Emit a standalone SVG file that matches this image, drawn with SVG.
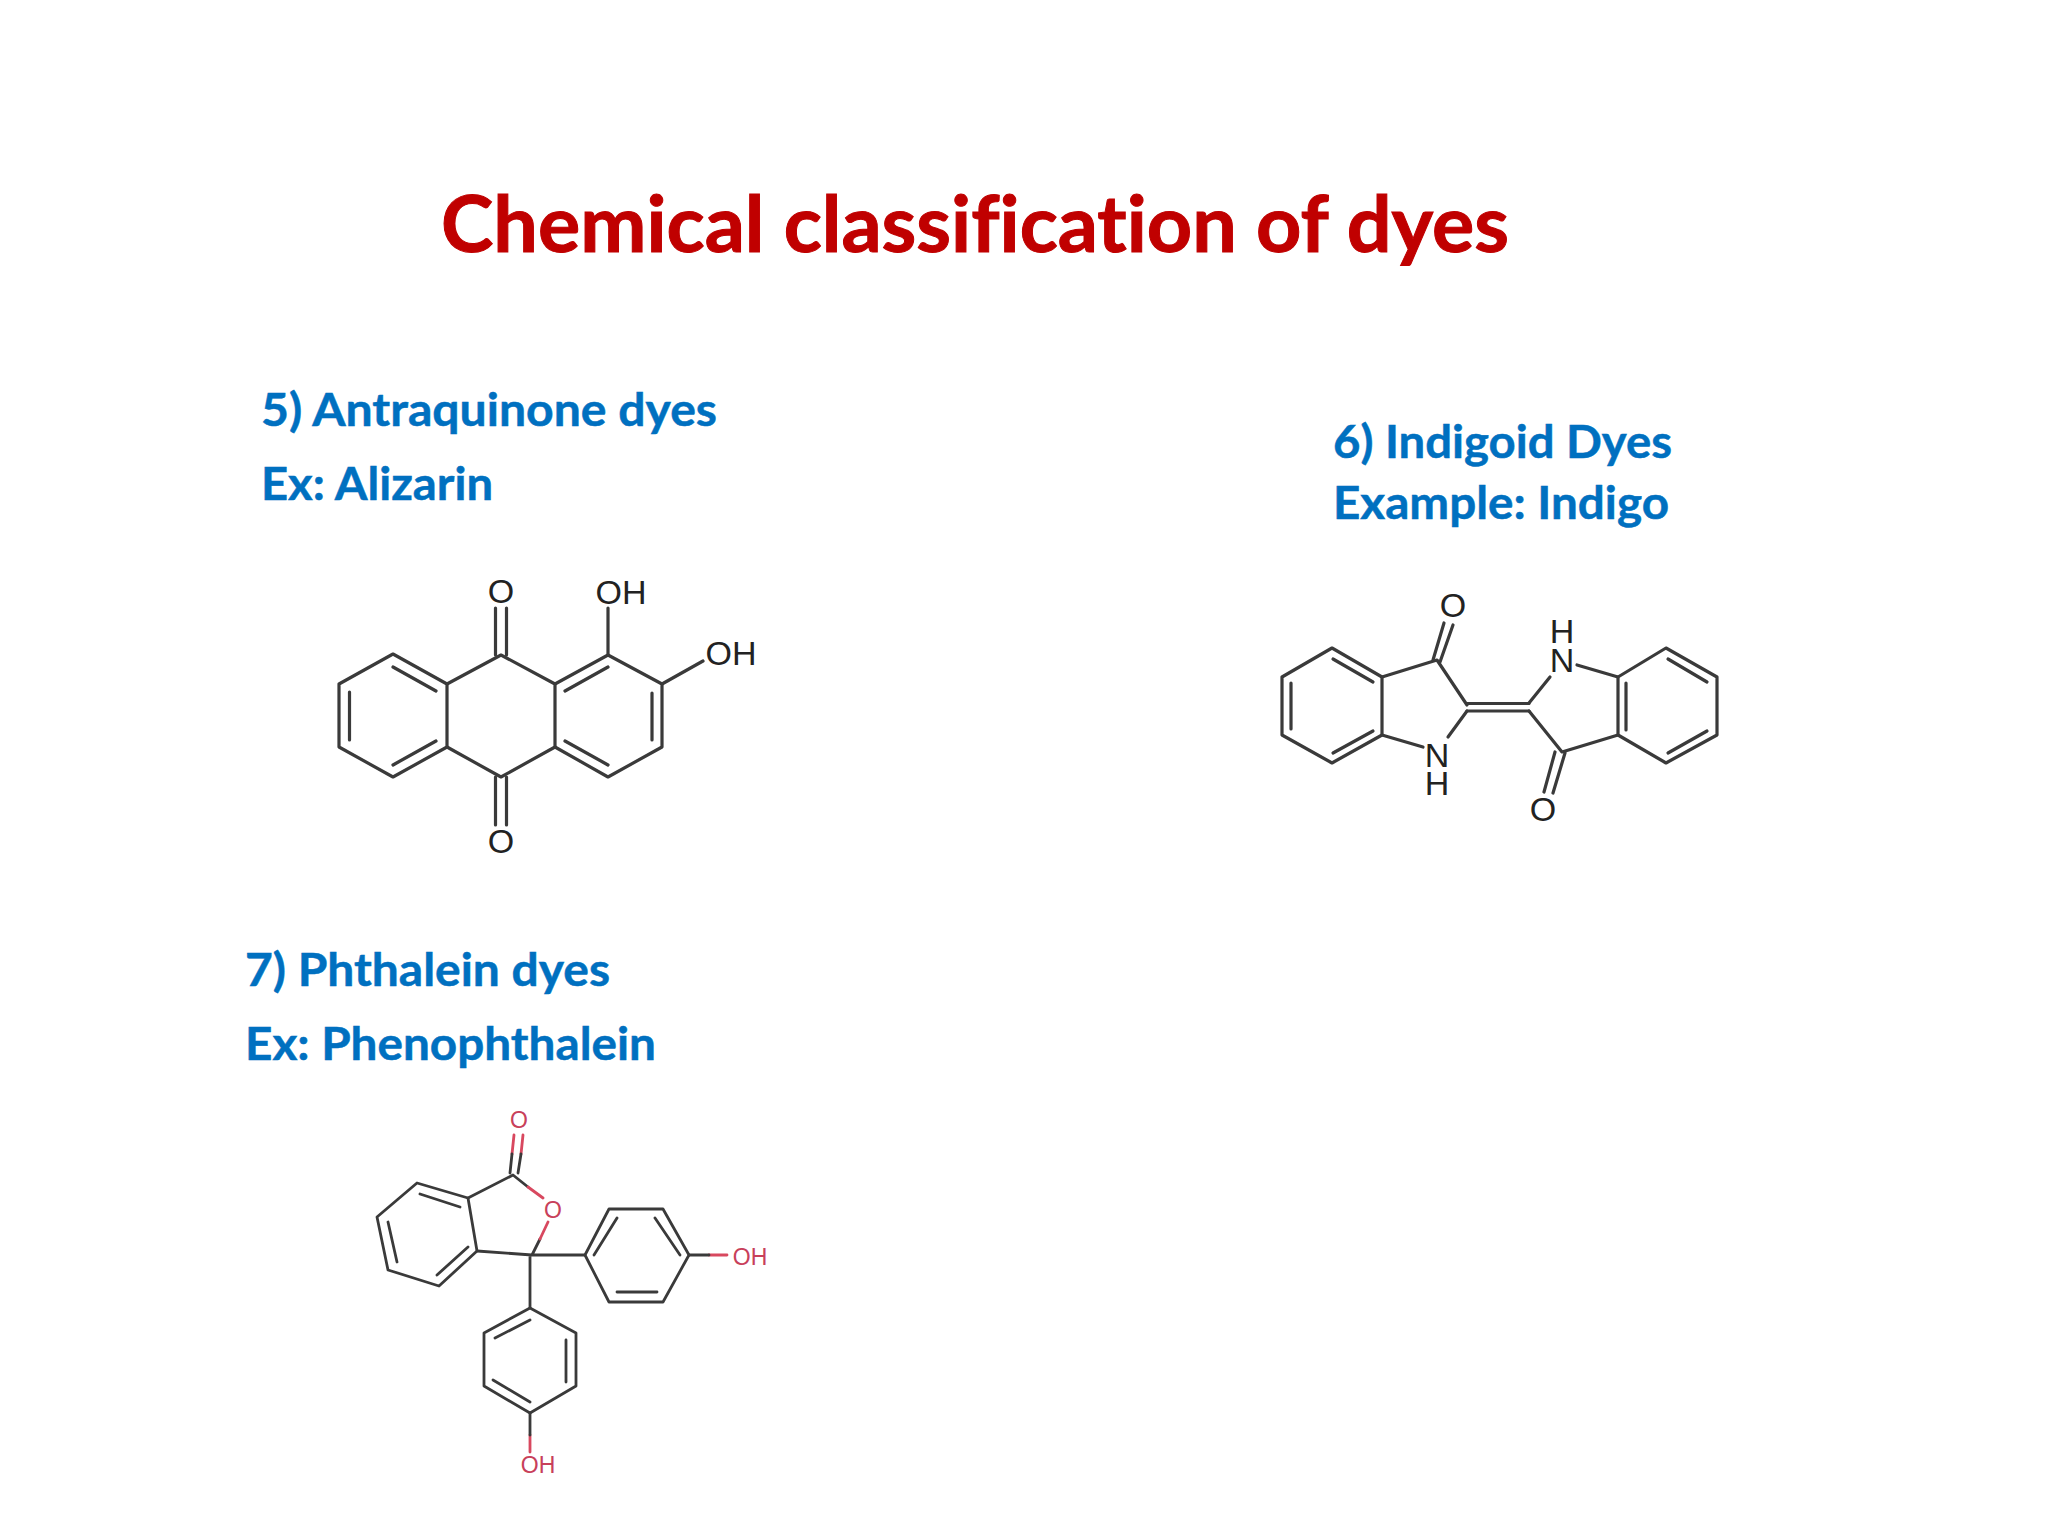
<svg xmlns="http://www.w3.org/2000/svg" width="2048" height="1536" viewBox="0 0 2048 1536">
<style>
.title{font-family:"Lato","Carlito","Liberation Sans",sans-serif;font-weight:700;font-size:79px;fill:#c00000;stroke:#c00000;stroke-width:1;font-variant-ligatures:none}
.head{font-family:"Lato","Carlito","Liberation Sans",sans-serif;font-weight:700;font-size:46px;fill:#0070c0;stroke:#0070c0;stroke-width:.5;font-variant-ligatures:none}
.b{fill:none;stroke:#3a3a3a;stroke-width:3.2;stroke-linecap:round;stroke-linejoin:round}
.p{fill:none;stroke:#3a3a3a;stroke-width:2.8;stroke-linecap:round;stroke-linejoin:round}
.r{fill:none;stroke:#d8485f;stroke-width:2.8;stroke-linecap:round}
.a{font-family:"Liberation Sans",Arial,sans-serif;font-size:34px;fill:#222;text-anchor:middle}
.ph{font-family:"Liberation Sans",Arial,sans-serif;font-size:23px;fill:#c8405a;text-anchor:middle}
</style>
<rect width="2048" height="1536" fill="#ffffff"/>
<g id="title"><text class="title" x="441" y="252" textLength="1068" lengthAdjust="spacingAndGlyphs">Chemical classification of dyes</text></g>
<g id="alizarin-label">
<text class="head" x="261" y="426" textLength="456" lengthAdjust="spacingAndGlyphs">5) Antraquinone dyes</text>
<text class="head" x="261" y="500" textLength="232" lengthAdjust="spacingAndGlyphs">Ex: Alizarin</text>
</g>
<g id="indigo-label">
<text class="head" x="1333" y="458" textLength="339" lengthAdjust="spacingAndGlyphs">6) Indigoid Dyes</text>
<text class="head" x="1333" y="519" textLength="336" lengthAdjust="spacingAndGlyphs">Example: Indigo</text>
</g>
<g id="phenolphthalein-label">
<text class="head" x="245" y="986" textLength="365" lengthAdjust="spacingAndGlyphs">7) Phthalein dyes</text>
<text class="head" x="245" y="1060" textLength="411" lengthAdjust="spacingAndGlyphs">Ex: Phenophthalein</text>
</g>
<g id="alizarin">
<path class="b" d="M339 684V747L393 777L447 747V684L393 654Z"/>
<path class="b" d="M447 684L501 655L555 684V747L501 777L447 747"/>
<path class="b" d="M555 684L608 655L662 684V747L608 777L555 747"/>
<path class="b" d="M349.500 692V740M393 667L436 691M393 765L436 741M565 691L608 667M652 693V740M565 741L608 765"/>
<path class="b" d="M495.500 608V655M506.500 608V655M495.500 777V825M506.500 777V825M608 608V655M662 684L703 661"/>
<text class="a" x="501" y="603">O</text>
<text class="a" x="501" y="853">O</text>
<text class="a" x="621" y="604">OH</text>
<text class="a" x="731" y="665">OH</text>
</g>
<g id="indigo">
<path class="b" d="M1282 677V735L1332 763L1382 735V677L1332 648Z"/>
<path class="b" d="M1291 683V729M1333 659L1373 682M1333 753L1373 731"/>
<path class="b" d="M1382 677L1437 660L1467 705M1467 711L1448 737M1382 735L1423 747"/>
<path class="b" d="M1433 660L1444 623M1440 662L1453 625"/>
<path class="b" d="M1467 703.500H1529M1467 711H1529"/>
<path class="b" d="M1529 703L1550 677M1577 665L1618 677M1529 711L1562 752L1618 735"/>
<path class="b" d="M1555 752L1544 792M1565 753L1553 793"/>
<path class="b" d="M1618 677L1666 648L1717 677V735L1666 763L1618 735Z"/>
<path class="b" d="M1626 683V730M1668 659L1707 682M1668 753L1707 731"/>
<text class="a" x="1453" y="617">O</text>
<text class="a" x="1543" y="821">O</text>
<text class="a" x="1437" y="767">N<tspan x="1437" dy="28">H</tspan></text>
<text class="a" x="1562" y="643">H<tspan x="1562" dy="29">N</tspan></text>
</g>
<g id="phenolphthalein">
<path class="p" d="M468 1198L417 1183L377 1217L388 1270L439 1286L477 1251Z"/>
<path class="p" d="M420 1194L460 1207M388 1222L397 1262M437 1275L468 1247"/>
<path class="p" d="M468 1198L513 1175L528 1187M477 1251L532 1255H585M530 1255V1308M532 1255L540 1239"/>
<path class="r" d="M528 1187L543 1198M540 1239L548 1222M512 1154L514 1135M521 1154L523 1135M709 1255H727M530 1435V1452"/>
<path class="p" d="M510 1173L512 1154M518 1173L521 1154"/>
<path class="p" d="M585 1255L609 1209H663L689 1255L663 1302H609Z"/>
<path class="p" d="M594 1255L617 1218M655 1218L680 1255M617 1292H657M689 1255H709"/>
<path class="p" d="M530 1308L484 1333V1386L530 1413L576 1386V1333Z"/>
<path class="p" d="M495 1338L530 1320M566 1340V1382M493 1380L530 1402M530 1413V1435"/>
<text class="ph" x="519" y="1128">O</text>
<text class="ph" x="553" y="1218">O</text>
<text class="ph" x="750" y="1265">OH</text>
<text class="ph" x="538" y="1473">OH</text>
</g>
</svg>
